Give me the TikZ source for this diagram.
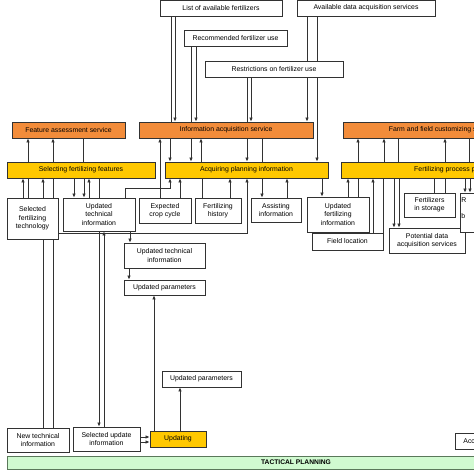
\documentclass[tikz,border=0pt]{standalone}
\usepackage{fontspec}
\setmainfont{Liberation Sans}
\usetikzlibrary{arrows.meta}
\definecolor{orng}{RGB}{242,140,58}
\definecolor{yel}{RGB}{255,200,0}
\definecolor{grn}{RGB}{208,250,208}
\definecolor{edge}{RGB}{50,50,50}
\definecolor{gedge}{RGB}{90,120,90}
\tikzset{
 base/.style={draw=edge, line width=0.85pt, inner sep=0pt, align=center, font=\fontsize{6.9}{8.4}\selectfont, text=black},
 box/.style={base, fill=white},
 obox/.style={base, fill=orng},
 ybox/.style={base, fill=yel},
 gbox/.style={base, fill=grn, draw=gedge, font=\fontsize{6.7}{8}\selectfont\bfseries},
 con/.style={draw=edge, line width=0.85pt},
 arr/.style={con, -{Latex[length=4pt,width=3.6pt]}},
}
\newcommand\mkbox[7]{\node[#1, minimum width={(#4-#3)*1pt}, minimum height={(#6-#5)*1pt}] (#2) at ({(#3+#4)/2},{(#5+#6)/2}) {#7};}
\newcommand\vl[4]{\draw[#1] (#2,0 |- #3) -- (#2,0 |- #4);}
\begin{document}
\begin{tikzpicture}[x=1pt,y=-1pt]
\useasboundingbox (0,0) rectangle (474,474);
\fill[white] (0,0) rectangle (474,474);
\clip (0,0) rectangle (474,474);
% top boxes
\mkbox{box}{list}{160}{282}{0}{16}{List of available fertilizers}
\mkbox{box}{avail}{297}{435}{0}{16}{Available data acquisition services}
\mkbox{box}{recom}{184}{287}{30}{46}{Recommended fertilizer use}
% services
\mkbox{obox}{fas}{12}{125}{122}{138}{Feature assessment service}
\mkbox{obox}{ias}{139}{313}{122}{138}{Information acquisition service}
\mkbox{obox}{ffcs}{343}{541}{122}{138}{Farm and field customizing service}
% processes
\mkbox{ybox}{sff}{7}{155}{162}{178}{Selecting fertilizing features}
\mkbox{ybox}{api}{165}{328}{162}{178}{Acquiring planning information}
\mkbox{ybox}{fpp}{341}{571}{162}{178}{Fertilizing process planning}
% lines passing behind restrictions box
\vl{arr}{307}{avail.south}{ias.north}
\vl{arr}{317}{avail.south}{api.north}
\mkbox{box}{restr}{205}{343}{61}{77}{Restrictions on fertilizer use}
% information boxes
\mkbox{box}{sft}{7}{58}{198}{239}{Selected\\fertilizing\\technology}
\mkbox{box}{uti}{63}{135}{198}{231}{Updated\\technical\\information}
\mkbox{box}{ecc}{139}{191}{198}{223}{Expected\\crop cycle}
\mkbox{box}{fh}{195}{241}{198}{223}{Fertilizing\\history}
\mkbox{box}{ai}{251}{301}{198}{222}{Assisting\\information}
\mkbox{box}{ufi}{307}{369}{197}{232}{Updated\\fertilizing\\information}
\mkbox{box}{fl}{312}{383}{233}{250}{Field location}
\mkbox{box}{pdas}{389}{465}{228}{253}{Potential data\\acquisition services}
\mkbox{box}{fis}{404}{455}{193}{217}{Fertilizers\\in storage}
\mkbox{box}{rbox}{460}{540}{193}{232}{}
\node[base, draw=none, align=left, anchor=north west] (rtxt) at (461,197) {R\\[8pt]b};
\mkbox{box}{uti2}{124}{205}{243}{268}{Updated technical\\information}
\mkbox{box}{up1}{124}{205}{280}{295}{Updated parameters}
\mkbox{box}{up2}{162}{241}{371}{387}{Updated parameters}
\mkbox{ybox}{upd}{150}{206}{431}{447}{Updating}
\mkbox{box}{sui}{73}{140}{427}{451}{Selected update\\information}
\mkbox{box}{nti}{7}{69}{428}{452}{New technical\\information}
\mkbox{gbox}{tp}{7}{585}{456}{469}{TACTICAL PLANNING}
\mkbox{box}{acc}{455}{540}{433}{449}{}
\node[base, draw=none, anchor=west] (acctxt) at (463,441) {Acc};
% top connectors
\vl{con}{171}{list.south}{ias.north}
\vl{arr}{175}{list.south}{ias.north}
\vl{con}{191}{recom.south}{ias.north}
\vl{arr}{196}{recom.south}{ias.north}
\vl{con}{247}{restr.south}{ias.north}
\vl{arr}{251}{restr.south}{ias.north}
% services - processes
\vl{arr}{28}{sff.north}{fas.south}
\vl{arr}{53}{sff.north}{fas.south}
\vl{con}{83}{sff.north}{fas.south}
\vl{arr}{170}{ias.south}{api.north}
\vl{arr}{191}{ias.south}{api.north}
\vl{arr}{201}{api.north}{ias.south}
\vl{arr}{247}{ias.south}{api.north}
\vl{con}{262}{ias.south}{api.north}
\vl{arr}{160}{ecc.north}{ias.south}
\vl{arr}{358}{fpp.north}{ffcs.south}
\vl{arr}{384}{fpp.north}{ffcs.south}
\vl{con}{398}{fpp.north}{ffcs.south}
\vl{arr}{445}{fpp.north}{ffcs.south}
\vl{con}{469}{fpp.north}{ffcs.south}
% processes - information
\vl{arr}{23}{sft.north}{sff.south}
\vl{con}{28}{sft.north}{sff.south}
\vl{arr}{43}{sft.north}{sff.south}
\vl{con}{53}{sft.north}{sff.south}
\vl{arr}{74}{sff.south}{uti.north}
\vl{arr}{84}{sff.south}{uti.north}
\vl{arr}{89}{uti.north}{sff.south}
\vl{con}{99}{uti.north}{sff.south}
\draw[arr] (125,0 |- uti.north) -- (125,188) -- (170,188) -- (170,0 |- api.south);
\vl{arr}{180}{ecc.north}{api.south}
\vl{con}{202}{fh.north}{api.south}
\vl{arr}{230}{fh.north}{api.south}
\draw[arr] (sft.east |- 0,233) -- (247,233) -- (247,0 |- api.south);
\vl{arr}{262}{api.south}{ai.north}
\vl{arr}{287}{ai.north}{api.south}
\vl{arr}{322}{api.south}{ufi.north}
\vl{arr}{348}{ufi.north}{fpp.south}
\vl{con}{358}{ufi.north}{fpp.south}
\vl{arr}{373}{fl.north}{fpp.south}
\vl{con}{383}{fpp.south}{fl.north}
\vl{arr}{394}{fpp.south}{pdas.north}
\vl{arr}{399}{fpp.south}{pdas.north}
\vl{con}{434}{fpp.south}{fis.north}
\vl{con}{445}{fpp.south}{fis.north}
\vl{arr}{465}{fpp.south}{rbox.north}
\vl{arr}{470}{fpp.south}{rbox.north}
% lower part
\vl{con}{43}{sft.south}{nti.north}
\vl{con}{53}{sft.south}{nti.north}
\vl{arr}{99}{uti.south}{sui.north}
\vl{arr}{104}{sui.north}{uti.south}
\vl{arr}{130}{uti.south}{uti2.north}
\vl{arr}{129}{uti2.south}{up1.north}
\vl{arr}{154}{upd.north}{up1.south}
\vl{arr}{180}{upd.north}{up2.south}
\draw[arr] (sui.east |- 0,437) -- (upd.west |- 0,437);
\draw[arr] (sui.east |- 0,442) -- (upd.west |- 0,442);
\end{tikzpicture}
\end{document}
